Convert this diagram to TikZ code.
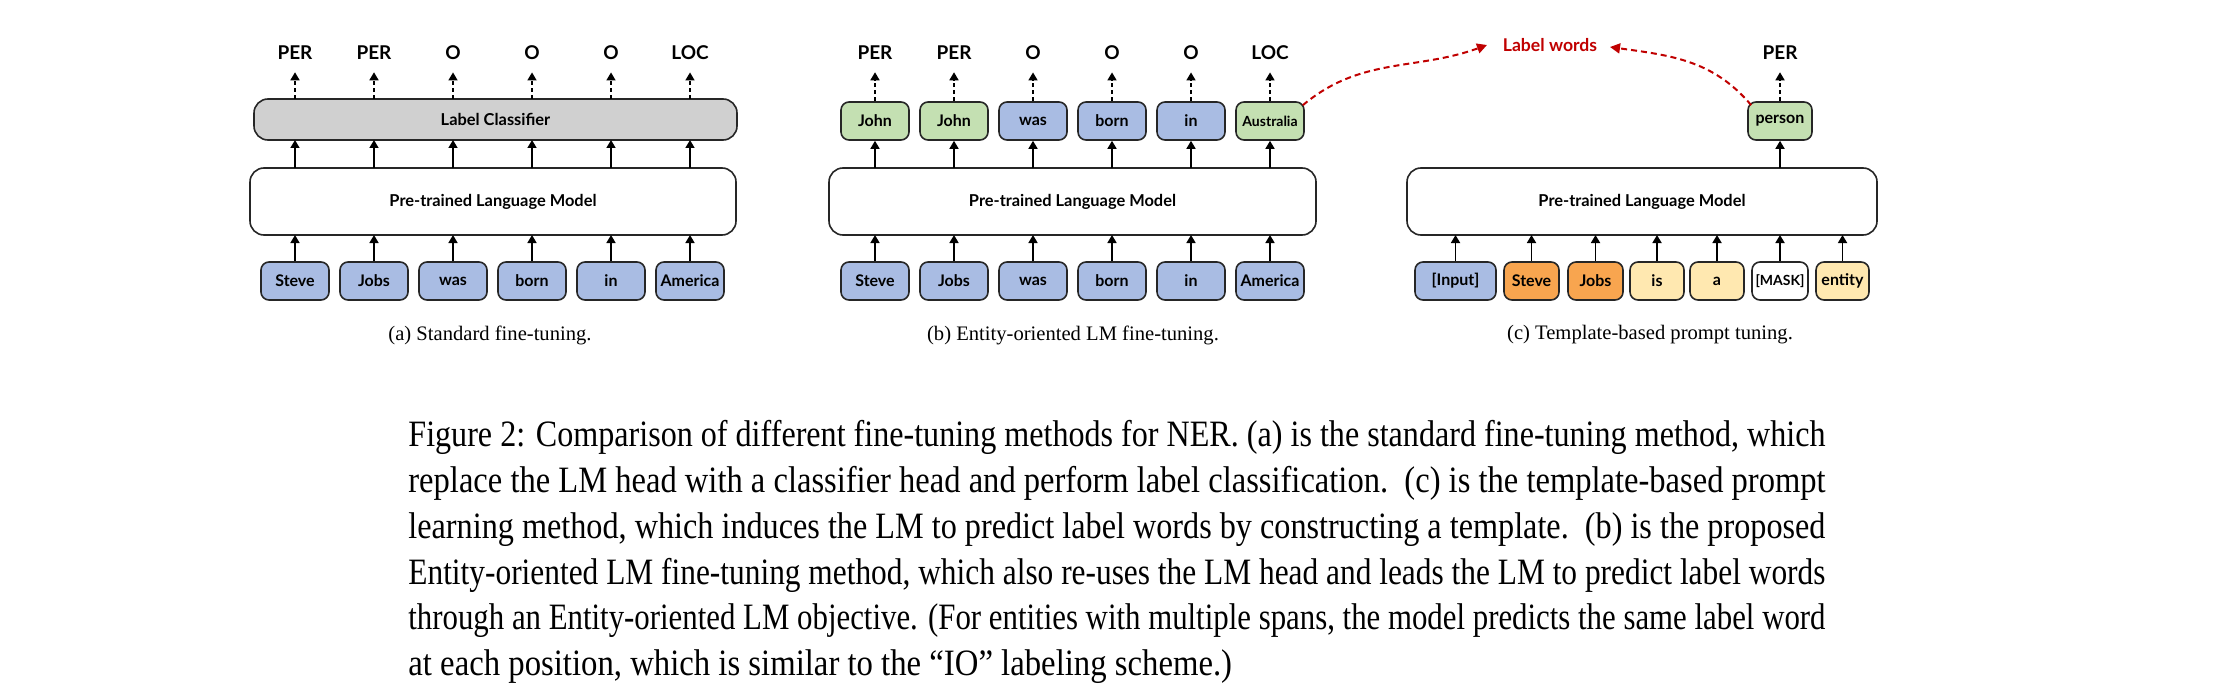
\documentclass[tikz,border=0pt]{standalone}
\usepackage{fontspec}
\usepackage{graphicx}
\setmainfont{Liberation Serif}
\newfontfamily\diafont{Lato}
\usetikzlibrary{arrows.meta}
\definecolor{tokblue}{HTML}{A9BCE3}
\definecolor{tokgreen}{HTML}{C4E0B2}
\definecolor{tokorange}{HTML}{F8A54F}
\definecolor{tokyellow}{HTML}{FFE8B0}
\definecolor{clsgray}{HTML}{D0D0D0}
\definecolor{lwred}{HTML}{C00000}
\newcommand{\capline}[1]{\resizebox{708.5pt}{\height}{#1}}
\tikzset{
  tok/.style={draw=black!85, line width=0.8pt, rounded corners=4pt, minimum height=19pt,
    inner sep=0pt, font=\diafont\bfseries\fontsize{8}{9}\selectfont},
  big/.style={draw=black!85, line width=0.8pt, rounded corners=7pt, inner sep=0pt,
    font=\diafont\bfseries\fontsize{8.2}{10}\selectfont, fill=white},
  lab/.style={font=\diafont\bfseries\fontsize{9.5}{11}\selectfont, inner sep=0pt},
  up/.style={line width=0.8pt, -{Triangle[width=4.5pt,length=4pt]}},
  dup/.style={line width=0.8pt, dash pattern=on 2pt off 1.5pt, -{Triangle[width=4.5pt,length=4pt]}},
  red/.style={draw=lwred, line width=1pt, dash pattern=on 3pt off 2pt, -{Triangle[width=5pt,length=5pt]}},
  sub/.style={font=\fontsize{10.3}{12}\selectfont, inner sep=0pt}
}
\begin{document}
\begin{tikzpicture}[x=0.5pt,y=-0.5pt]
\useasboundingbox (0,0) rectangle (2230,684);
% (a) standard fine-tuning
\node[big, fill=clsgray, minimum width=241.5pt, minimum height=20.5pt] (acls) at (495.5,119.5) {Label Classifier};
\node[big, minimum width=243pt, minimum height=33.5pt] (aplm) at (493,201.5) {Pre-trained Language Model};
\foreach \w/\l [count=\i] in {Steve/PER,Jobs/PER,was/O,born/O,in/O,America/LOC} {
  \node[tok, fill=tokblue, minimum width=34pt] (ain\i) at (295+79*\i-79,281) {\w};
  \node[lab] (aout\i) at (295+79*\i-79,53) {\l};
  \coordinate (aclsb\i) at (295+79*\i-79,140);
  \coordinate (aclst\i) at (295+79*\i-79,99);
  \coordinate (aplmb\i) at (295+79*\i-79,235);
  \coordinate (aplmt\i) at (295+79*\i-79,168);
  \draw[up] (ain\i) -- (aplmb\i);
  \draw[up] (aplmt\i) -- (aclsb\i);
  \draw[dup] (aclst\i) -- ([yshift=-6pt]aout\i.south);
}
\node[sub] (acap) at (490,335) {(a) Standard fine-tuning.};
% (b) entity-oriented LM fine-tuning
\node[big, minimum width=243.5pt, minimum height=33.5pt] (bplm) at (1072.5,201.5) {Pre-trained Language Model};
\foreach \w/\o/\c/\l [count=\i] in {Steve/John/tokgreen/PER,Jobs/John/tokgreen/PER,was/was/tokblue/O,born/born/tokblue/O,in/in/tokblue/O,America/{\fontsize{7}{8}\selectfont Australia}/tokgreen/LOC} {
  \node[tok, fill=tokblue, minimum width=34pt] (bin\i) at (875+79*\i-79,281) {\w};
  \node[tok, fill=\c, minimum width=34pt] (bmid\i) at (875+79*\i-79,121) {\o};
  \node[lab] (bout\i) at (875+79*\i-79,53) {\l};
  \coordinate (bplmb\i) at (875+79*\i-79,235);
  \coordinate (bplmt\i) at (875+79*\i-79,168);
  \draw[up] (bin\i) -- (bplmb\i);
  \draw[up] (bplmt\i) -- (bmid\i);
  \draw[dup] (bmid\i) -- ([yshift=-6pt]bout\i.south);
}
\node[sub] (bcap) at (1073,335) {(b) Entity-oriented LM fine-tuning.};
% (c) template-based prompt tuning
\node[big, minimum width=235pt, minimum height=33.5pt] (cplm) at (1642,201.5) {Pre-trained Language Model};
\foreach \w/\x/\bw/\c [count=\i] in {{[Input]}/1455.5/40.5/tokblue,Steve/1531.5/27.5/tokorange,Jobs/1595.5/27.5/tokorange,is/1657/27/tokyellow,a/1717/27/tokyellow,{\fontsize{7}{8}\selectfont[MASK]}/1780/28/white,entity/1842.5/26.5/tokyellow} {
  \node[tok, fill=\c, minimum width=\bw pt] (cin\i) at (\x,281) {\w};
  \coordinate (cplmb\i) at (\x,235);
  \draw[up] (cin\i) -- (cplmb\i);
}
\node[tok, fill=tokgreen, minimum width=32pt] (cmid) at (1780,121) {person};
\node[lab] (cout) at (1780,53) {PER};
\coordinate (cplmt) at (1780,168);
\draw[up] (cplmt) -- (cmid);
\draw[dup] (cmid) -- ([yshift=-6pt]cout.south);
\node[sub] (ccap) at (1650,335) {(c) Template-based prompt tuning.};
% label words
\node[lab, text=lwred, font=\diafont\bfseries\fontsize{8.8}{10}\selectfont] (lw) at (1550,45) {Label words};
\coordinate (lwl) at (1487,45);
\coordinate (lwr) at (1610,47);
\draw[red] ([xshift=-1pt,yshift=-2pt]bmid6.north east) to[out=40,in=200] (lwl);
\draw[red] ([xshift=2pt,yshift=-2pt]cmid.north west) to[out=130,in=-8] (lwr);
% figure caption
\node[anchor=north west, inner sep=0pt, align=left,
  font=\fontsize{18.6}{22.9}\selectfont] (fig) at (408,420) {%
\capline{Figure 2: Comparison of different fine-tuning methods for NER. (a) is the standard fine-tuning method, which}\\
\capline{replace the LM head with a classifier head and perform label classification.\ \ (c) is the template-based prompt}\\
\capline{learning method, which induces the LM to predict label words by constructing a template.\ \ (b) is the proposed}\\
\capline{Entity-oriented LM fine-tuning method, which also re-uses the LM head and leads the LM to predict label words}\\
\capline{through an Entity-oriented LM objective. (For entities with multiple spans, the model predicts the same label word}\\
\scalebox{0.88}[1]{at each position, which is similar to the ``IO" labeling scheme.)}};
\end{tikzpicture}
\end{document}
